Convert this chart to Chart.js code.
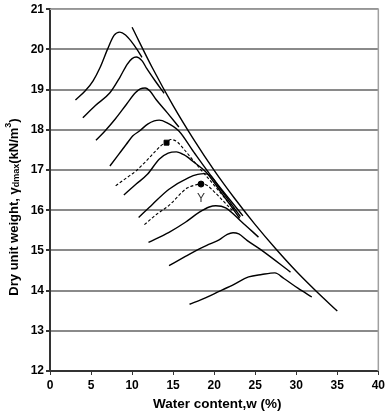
<!DOCTYPE html>
<html lang="en">
<head>
    <meta charset="UTF-8">
    <title>Compaction curves</title>
    <script src="https://cdn.jsdelivr.net/npm/chart.js"></script>
    <style>
        html, body {
            margin: 0;
            padding: 0;
            background-color: #ffffff;
        }
        .chart-container {
            position: relative;
            width: 388px;
            height: 412px;
        }
    </style>
</head>
<body>
    <div class="chart-container">
        <canvas id="myChart"></canvas>
    </div>

    <script>
// axis ticks
const xTicks = [0, 5, 10, 15, 20, 25, 30, 35, 40];
const yTicks = [12, 13, 14, 15, 16, 17, 18, 19, 20, 21];

// compaction curves, water content (%) and dry unit weight (kN/m3)
const c1W = [3.1, 4.3, 5.25, 6.1, 7.0, 7.8, 8.5, 9.2, 9.9, 10.6, 11.2];
const c1G = [18.74, 18.97, 19.22, 19.55, 20.0, 20.35, 20.43, 20.36, 20.2, 20.0, 19.8];

const c2W = [4.0, 5.5, 7.3, 8.5, 9.4, 10.0, 10.5, 11.2, 11.8, 12.8, 13.9];
const c2G = [18.3, 18.6, 18.92, 19.3, 19.63, 19.77, 19.81, 19.72, 19.52, 19.22, 18.91];

const c3W = [5.6, 6.7, 8.0, 9.3, 10.4, 11.0, 11.6, 12.2, 12.9, 14.3, 15.7];
const c3G = [17.74, 17.97, 18.28, 18.63, 18.92, 19.02, 19.04, 18.96, 18.76, 18.42, 18.07];

const c4W = [7.3, 8.3, 9.3, 10.1, 10.9, 11.9, 12.7, 13.3, 14.2, 15.7, 17.5, 20.0, 23.5];
const c4G = [17.1, 17.37, 17.64, 17.85, 17.97, 18.14, 18.22, 18.24, 18.18, 17.97, 17.45, 16.75, 15.86];

// dashed curve with square marker
const c5W = [8.0, 9.3, 10.5, 11.8, 12.9, 13.6, 14.2, 14.7, 15.5, 16.3, 18.0, 20.0, 22.4];
const c5G = [16.61, 16.8, 16.98, 17.24, 17.48, 17.62, 17.68, 17.76, 17.7, 17.52, 17.1, 16.62, 16.03];

const c6W = [9.0, 10.5, 11.9, 13.3, 14.4, 15.4, 16.3, 17.5, 19.0, 21.0, 23.1];
const c6G = [16.38, 16.65, 16.9, 17.27, 17.42, 17.45, 17.38, 17.2, 16.95, 16.4, 15.8];

const c7W = [10.8, 12.5, 14.5, 16.9, 18.0, 18.8, 19.6, 20.5, 23.2];
const c7G = [15.82, 16.15, 16.52, 16.81, 16.89, 16.91, 16.85, 16.6, 15.84];

// dashed curve with round marker (Y)
const c8W = [11.5, 13.0, 14.5, 16.1, 16.7, 17.6, 18.4, 18.9, 20.2, 21.0, 22.2];
const c8G = [15.64, 15.9, 16.12, 16.45, 16.55, 16.62, 16.65, 16.64, 16.42, 16.25, 16.0];

const c9W = [12.0, 14.5, 16.5, 18.2, 19.4, 20.2, 21.4, 23.3, 25.4];
const c9G = [15.2, 15.45, 15.7, 15.95, 16.08, 16.11, 16.06, 15.72, 15.33];

const c10W = [14.5, 16.5, 18.2, 19.5, 20.6, 21.6, 22.3, 23.0, 24.0, 25.8, 29.3];
const c10G = [14.62, 14.85, 15.04, 15.16, 15.26, 15.4, 15.44, 15.41, 15.25, 15.0, 14.46];

const c11W = [17.0, 18.5, 19.8, 21.0, 22.2, 24.2, 25.8, 27.4, 28.5, 30.2, 31.9];
const c11G = [13.66, 13.78, 13.9, 14.02, 14.13, 14.34, 14.4, 14.44, 14.3, 14.06, 13.84];

// zero air voids line
const zavW = [10, 12.5, 15, 17.5, 20, 22.5, 25, 27.5, 30, 32.5, 35];
const zavG = [20.55, 19.53, 18.6, 17.76, 16.99, 16.29, 15.64, 15.04, 14.48, 13.97, 13.49];

// marker points
const squareW = [14.2];
const squareG = [17.68];
const dotW = [18.4];
const dotG = [16.65];

// label on the chart
const labelText = 'Y';
const labelW = 18.4;
const labelG = 16.28;

function pts(w, g) {
    return w.map((v, i) => ({ x: v, y: g[i] }));
}

function curve(w, g, dashed) {
    return {
        type: 'line',
        data: pts(w, g),
        borderColor: '#000000',
        borderWidth: dashed ? 1.1 : 1.4,
        borderDash: dashed ? [3, 2] : [],
        pointRadius: 0,
        fill: false,
        cubicInterpolationMode: 'monotone'
    };
}

const datasets = [
    curve(c1W, c1G), curve(c2W, c2G), curve(c3W, c3G), curve(c4W, c4G),
    curve(c5W, c5G, true), curve(c6W, c6G), curve(c7W, c7G),
    curve(c8W, c8G, true), curve(c9W, c9G), curve(c10W, c10G), curve(c11W, c11G),
    curve(zavW, zavG),
    {
        type: 'scatter',
        data: pts(squareW, squareG),
        pointStyle: 'rect',
        pointRadius: 3.5,
        backgroundColor: '#000000',
        borderColor: '#000000'
    },
    {
        type: 'scatter',
        data: pts(dotW, dotG),
        pointStyle: 'circle',
        pointRadius: 3,
        backgroundColor: '#000000',
        borderColor: '#000000'
    }
];

// frame, axis titles and the Y label
const extras = {
    id: 'extras',
    afterDraw(chart) {
        const ctx = chart.ctx;
        const a = chart.chartArea;
        const xs = chart.scales.x;
        const ys = chart.scales.y;
        ctx.save();

        ctx.strokeStyle = '#a0a0a0';
        ctx.lineWidth = 1.5;
        ctx.beginPath();
        ctx.moveTo(a.left, a.top);
        ctx.lineTo(a.right, a.top);
        ctx.lineTo(a.right, a.bottom);
        ctx.stroke();

        ctx.fillStyle = '#333333';
        ctx.font = '12px "Liberation Sans", Arial, sans-serif';
        ctx.textAlign = 'center';
        ctx.textBaseline = 'middle';
        ctx.fillText(labelText, xs.getPixelForValue(labelW), ys.getPixelForValue(labelG));

        ctx.fillStyle = '#000000';
        ctx.font = 'bold 13.5px "Liberation Sans", Arial, sans-serif';
        ctx.fillText('Water content,w (%)', (a.left + a.right) / 2 + 3, 404);

        // rotated y title with sub/superscript
        const big = 'bold 13px "Liberation Sans", Arial, sans-serif';
        const small = 'bold 9px "Liberation Sans", Arial, sans-serif';
        const parts = [
            { t: 'Dry unit weight, \u03b3', f: big, dy: 0 },
            { t: 'dmax', f: small, dy: 3 },
            { t: '(kN/m', f: big, dy: 0 },
            { t: '3', f: small, dy: -5 },
            { t: ')', f: big, dy: 0 }
        ];
        let total = 0;
        parts.forEach(p => { ctx.font = p.f; total += ctx.measureText(p.t).width; });
        ctx.translate(14, 207);
        ctx.rotate(-Math.PI / 2);
        ctx.textAlign = 'left';
        ctx.textBaseline = 'middle';
        let x = -total / 2;
        parts.forEach(p => {
            ctx.font = p.f;
            ctx.fillText(p.t, x, p.dy);
            x += ctx.measureText(p.t).width;
        });
        ctx.restore();
    }
};

const ctx = document.getElementById('myChart').getContext('2d');
const myChart = new Chart(ctx, {
    data: { datasets: datasets },
    options: {
        responsive: true,
        maintainAspectRatio: false,
        animation: false,
        layout: { padding: { left: 0, top: 8, right: 8, bottom: 0 } },
        plugins: {
            legend: { display: false },
            tooltip: { enabled: false }
        },
        scales: {
            x: {
                type: 'linear',
                min: 0,
                max: 40,
                afterFit: (scale) => { scale.height = 41; },
                afterBuildTicks: (scale) => { scale.ticks = xTicks.map(v => ({ value: v })); },
                grid: {
                    drawOnChartArea: false,
                    drawTicks: true,
                    tickLength: 4,
                    tickColor: '#333333'
                },
                border: { display: true, color: '#333333', width: 2 },
                ticks: {
                    padding: 3,
                    color: '#000000',
                    font: { family: '"Liberation Sans", Arial, sans-serif', size: 12, weight: 'bold' }
                }
            },
            y: {
                type: 'linear',
                min: 12,
                max: 21,
                afterFit: (scale) => { scale.width = 50; },
                afterBuildTicks: (scale) => { scale.ticks = yTicks.map(v => ({ value: v })); },
                grid: {
                    color: '#8a8a8a',
                    lineWidth: 2,
                    drawTicks: true,
                    tickLength: 4,
                    tickColor: '#333333'
                },
                border: { display: true, color: '#333333', width: 2 },
                ticks: {
                    padding: 2,
                    color: '#000000',
                    font: { family: '"Liberation Sans", Arial, sans-serif', size: 12, weight: 'bold' }
                }
            }
        }
    },
    plugins: [extras]
});
    </script>
</body>
</html>
